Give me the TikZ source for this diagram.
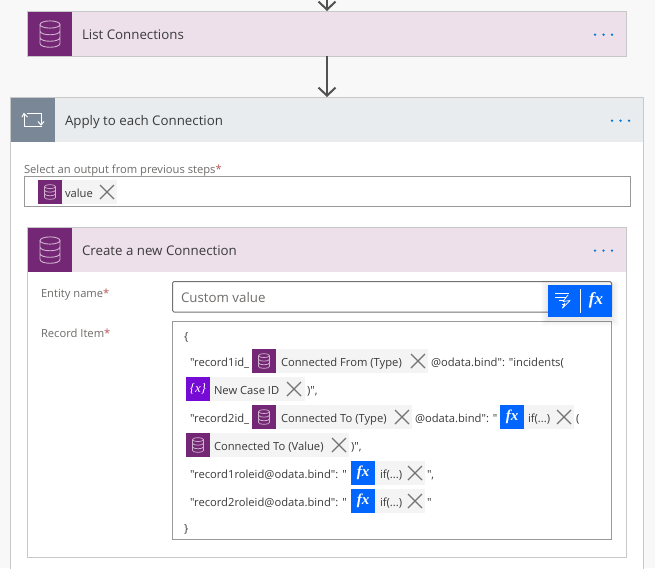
\documentclass[tikz,border=0pt]{standalone}
\usepackage{fontspec}
\usetikzlibrary{arrows.meta}
\setmainfont{Open Sans}[Ligatures=TeXOff]
\newfontfamily\fxfont{Liberation Serif}
\definecolor{pagebg}{HTML}{F8F8F8}
\definecolor{cardline}{HTML}{C8C8C8}
\definecolor{purp}{HTML}{742774}
\definecolor{purphead}{HTML}{EDE0EB}
\definecolor{loophead}{HTML}{E9ECEF}
\definecolor{loopicon}{HTML}{7A8797}
\definecolor{fxblue}{HTML}{0066FF}
\definecolor{varpurp}{HTML}{770BD6}
\definecolor{chipbg}{HTML}{F4F4F4}
\definecolor{boxline}{HTML}{999999}
\definecolor{txt}{HTML}{3A3A3A}
\definecolor{lbl}{HTML}{6E6C6A}
\definecolor{req}{HTML}{B8555A}
\definecolor{dotblue}{HTML}{0078D4}
\newcommand{\bigfont}{\fontsize{13.3}{15}\selectfont}
\newcommand{\smfont}{\fontsize{11.2}{14}\selectfont}
\newcommand{\reqmark}{\textcolor{req}{*}}
\tikzset{
  x=1pt,y=-1pt,
  every node/.style={outer sep=0pt},
  card/.style={draw=cardline,line width=1pt,inner sep=0pt,anchor=north west},
  band/.style={inner sep=0pt,anchor=north west,minimum height=44pt},
  tilesq/.style={inner sep=0pt,anchor=north west,minimum width=24pt,minimum height=24pt},
  chipbox/.style={fill=chipbg,inner sep=0pt,anchor=north west,minimum height=24pt},
  inbox/.style={draw=boxline,line width=1pt,inner sep=0pt,anchor=north west},
  bigtxt/.style={anchor=base west,inner sep=0pt,text=txt,font=\bigfont},
  smtxt/.style={anchor=base west,inner sep=0pt,text=txt,font=\smfont},
  lbltxt/.style={anchor=base west,inner sep=0pt,text=lbl,font=\smfont},
  flowarrow/.style={draw=black!68,line width=2pt,shorten >=.5pt,-{Straight Barb[length=8pt,width=17pt,line width=2pt]}},
  dbicon/.pic={
    \draw[draw=#1,line width=.9pt,line cap=round]
      (0,-9.5) ellipse[x radius=10,y radius=3.6]
      (-10,-9.5) -- (-10,9.5) .. controls (-10,14.5) and (10,14.5) .. (10,9.5) -- (10,-9.5)
      (-10,-3) .. controls (-10,2) and (10,2) .. (10,-3)
      (-10,3.5) .. controls (-10,8.5) and (10,8.5) .. (10,3.5);
  },
  dbsmall/.pic={
    \draw[draw=#1,line width=.7pt,line cap=round]
      (0,-5.4) ellipse[x radius=5.5,y radius=2]
      (-5.5,-5.4) -- (-5.5,5.4) .. controls (-5.5,8) and (5.5,8) .. (5.5,5.4) -- (5.5,-5.4)
      (-5.5,-1.8) .. controls (-5.5,.8) and (5.5,.8) .. (5.5,-1.8)
      (-5.5,1.8) .. controls (-5.5,4.4) and (5.5,4.4) .. (5.5,1.8);
  },
  crossmark/.pic={
    \draw[draw=black!55,line width=1.2pt] (-7,-7) -- (7,7) (-7,7) -- (7,-7);
  },
  threedots/.pic={
    \foreach \dx in {0,8.5,17} \fill[dotblue] (\dx,0) circle[radius=1.3];
  },
}
\newcommand{\fxtile}[3]{\node[tilesq,fill=fxblue,text=white,font=\fxfont\itshape\bfseries\fontsize{15}{15}\selectfont] (#1) at (#2,#3) {fx};}
\newcommand{\dbtile}[3]{\node[tilesq,fill=purp] (#1) at (#2,#3) {}; \pic at (#1.center) {dbsmall=purphead!75!purp};}
\begin{document}
\begin{tikzpicture}
\useasboundingbox (0,0) rectangle (655,568);
\fill[pagebg] (0,0) rectangle (655,568);
% List Connections card
\node[card,fill=purphead,minimum width=599pt,minimum height=44.5pt] (listcard) at (27.5,11.5) {};
\node[band,fill=purp,minimum width=44pt] (listicon) at (28,12) {};
\pic at (listicon.center) {dbicon=purphead!75!purp};
\node[bigtxt] (listtxt) at (82,39) {List Connections};
\pic at (595,34.7) {threedots};
% Apply to each
\node[card,fill=white,minimum width=633pt,minimum height=473pt] (loopcard) at (10.5,97.5) {};
\node[band,fill=loophead,minimum width=632pt] (loophd) at (11,98) {};
\node[band,fill=loopicon,minimum width=44pt] (loopicn) at (11,98) {};
\draw[white,line width=1pt] (24,114) -- (24,126.5) -- (42,126.5) (26.5,113.5) -- (41,113.5) -- (41,124);
\draw[white,line width=1pt] (22,117) -- (24,113.5) -- (27.5,117);
\draw[white,line width=1pt] (38,121.5) -- (41,125) -- (44,121.5);
\node[bigtxt] (looptxt) at (65,125) {Apply to each Connection};
\pic at (612,120.7) {threedots};
% arrows
\coordinate (topstart) at (327,0);
\draw[flowarrow] (topstart) -- (listcard.north);
\draw[flowarrow] (listcard.south) -- (loopcard.north);
% select output
\node[lbltxt] (seltxt) at (24,173.5) {Select an output from previous steps\reqmark};
\node[inbox,fill=white,minimum width=606pt,minimum height=30pt] (selbox) at (24.5,176.5) {};
\node[chipbox,minimum width=79pt] (valchip) at (38,180) {};
\dbtile{valicon}{38}{180}
\node[smtxt] (valtxt) at (65,197) {value};
\pic at (107,192) {crossmark};
% Create card
\node[card,fill=white,minimum width=599pt,minimum height=329.5pt] (newcard) at (27.5,227.5) {};
\node[band,fill=purphead,minimum width=598pt] (newhd) at (28,228) {};
\node[band,fill=purp,minimum width=44pt] (newicn) at (28,228) {};
\pic at (newicn.center) {dbicon=purphead!75!purp};
\node[bigtxt] (newtxt) at (82,255) {Create a new Connection};
\pic at (595,250.6) {threedots};
\node[lbltxt] (enttxt) at (41,297) {Entity name\reqmark};
\node[lbltxt] (rectxt) at (41,337) {Record Item\reqmark};
\node[inbox,draw=black!55,fill=white,rounded corners=1.5pt,minimum width=439pt,minimum height=30.5pt] (entbox) at (172.5,281.5) {};
\node[bigtxt,text=lbl] (custtxt) at (181,302) {Custom value};
\node[inbox,fill=white,minimum width=439pt,minimum height=218pt] (recbox) at (172.5,321.5) {};
% button with shadow
\foreach \g in {1,2,...,7}
  \fill[black,opacity=.012] (548-\g,285-\g+2) rectangle (612+\g,317+\g+2);
\node[inner sep=0pt,anchor=north west,fill=fxblue,minimum width=64pt,minimum height=32pt] (btn) at (548,285) {};
\draw[white,line width=.7pt] (580,289) -- (580,313);
\draw[white,line width=.7pt] (555,293.5) -- (569,293.5) (555,297) -- (566,297) (559,300.5) -- (564,300.5) (562,304) -- (565,304);
\draw[white,line width=.7pt,line join=round] (568,295) -- (563,301.5) -- (570,300.5) -- (562.5,308) -- (565,303);
\node[anchor=center,inner sep=0pt,text=white,font=\fxfont\itshape\bfseries\fontsize{17}{17}\selectfont] (btnfx) at (596,300) {fx};
% record text
\node[smtxt] (l0) at (184,340) {\{};
\node[smtxt] (l1a) at (190,366) {"record1id\_};
\node[chipbox,minimum width=176pt] (c1) at (252,349) {};
\dbtile{i1}{252}{349}
\node[smtxt] (l1b) at (281,366) {Connected From (Type)};
\pic at (418,361) {crossmark};
\node[smtxt] (l1c) at (431,366) {@odata.bind": "incidents(};
\node[chipbox,minimum width=119pt] (c2) at (186,377) {};
\node[tilesq,fill=varpurp,text=white,font=\fxfont\itshape\fontsize{13}{13}\selectfont] (i2) at (186,377) {\{x\}};
\node[smtxt] (l2b) at (214,394) {New Case ID};
\pic at (294,389) {crossmark};
\node[smtxt] (l2c) at (307,394) {)",};
\node[smtxt] (l3a) at (190,422) {"record2id\_};
\node[chipbox,minimum width=160pt] (c3) at (252,405) {};
\dbtile{i3}{252}{405}
\node[smtxt] (l3b) at (281,422) {Connected To (Type)};
\pic at (402,417) {crossmark};
\node[smtxt] (l3c) at (415,422) {@odata.bind": "};
\node[chipbox,minimum width=74pt] (c4) at (500,405) {};
\fxtile{i4}{500}{405}
\node[smtxt] (l3d) at (528,422) {if(...)};
\pic at (564,417) {crossmark};
\node[smtxt] (l3e) at (576,422) {(};
\node[chipbox,minimum width=163pt] (c5) at (186,433) {};
\dbtile{i5}{186}{433}
\node[smtxt] (l4b) at (214,450) {Connected To (Value)};
\pic at (339,445) {crossmark};
\node[smtxt] (l4c) at (351,450) {)",};
\node[smtxt] (l5a) at (190,478) {"record1roleid@odata.bind": "};
\node[chipbox,minimum width=74pt] (c6) at (351,461) {};
\fxtile{i6}{351}{461}
\node[smtxt] (l5b) at (380,478) {if(...)};
\pic at (415,473) {crossmark};
\node[smtxt] (l5c) at (427,478) {",};
\node[smtxt] (l6a) at (190,506) {"record2roleid@odata.bind": "};
\node[chipbox,minimum width=74pt] (c7) at (351,489) {};
\fxtile{i7}{351}{489}
\node[smtxt] (l6b) at (380,506) {if(...)};
\pic at (415,501) {crossmark};
\node[smtxt] (l6c) at (427,506) {"};
\node[smtxt] (l7) at (184,532) {\}};
\end{tikzpicture}
\end{document}
